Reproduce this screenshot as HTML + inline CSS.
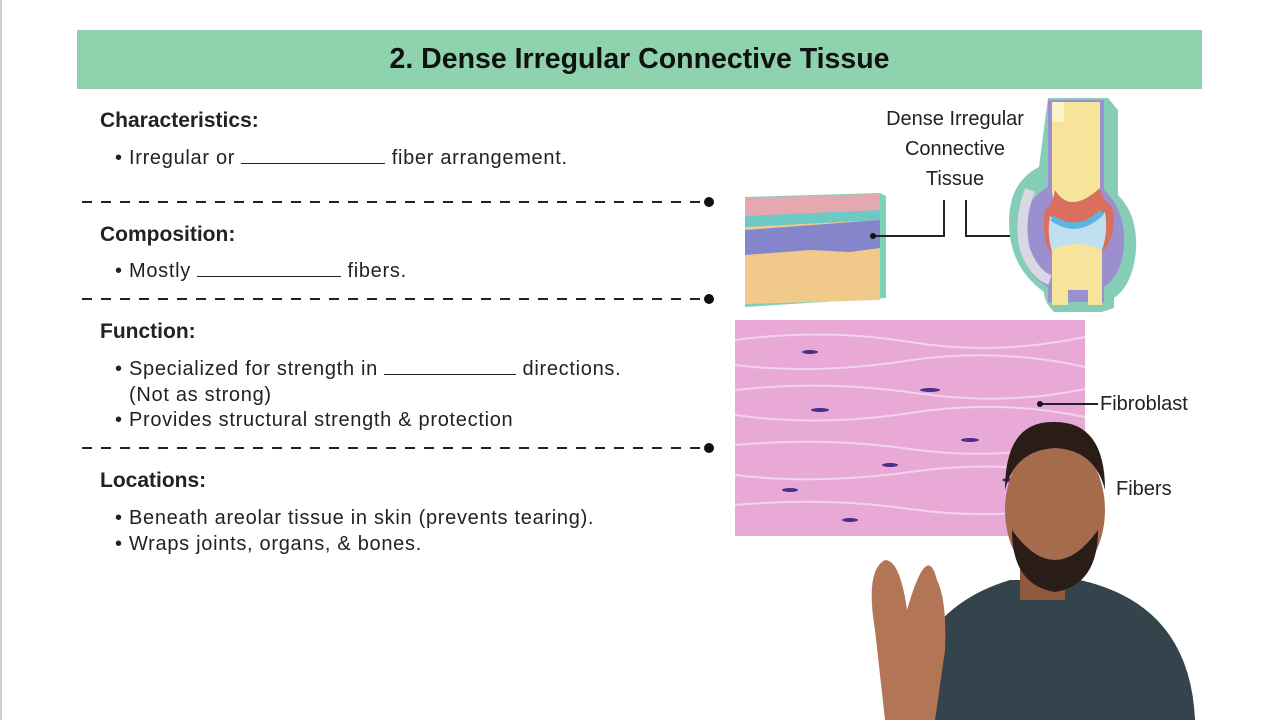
<!DOCTYPE html>
<html><head><style>
body{margin:0;width:1280px;height:720px;background:#fff;position:relative;overflow:hidden;font-family:"Liberation Sans",sans-serif;color:#222}
.a{position:absolute;white-space:nowrap}
.h{font-weight:bold;font-size:21px}
.t{font-size:20px;letter-spacing:0.7px}
.dash{position:absolute;left:82px;width:626px;height:2px;background:repeating-linear-gradient(90deg,#222 0 10px,transparent 10px 19px)}
.dot{position:absolute;width:10px;height:10px;border-radius:50%;background:#111}
.u{display:inline-block;width:144px;border-bottom:1.5px solid #222;height:16px}
</style></head><body>
<div style="position:absolute;left:0;top:0;width:2px;height:720px;background:#ccc"></div>
<div class="a" style="left:77px;top:30px;width:1125px;height:59px;background:#8ed3ae;text-align:center;line-height:59px;font-weight:bold;font-size:28.5px;color:#111">2. Dense Irregular Connective Tissue</div>
<div class="a h" style="left:100px;top:109px">Characteristics:</div>
<div class="a t" style="left:115px;top:147px">• Irregular or <span class="u"></span> fiber arrangement.</div>
<div class="dash" style="top:201px"></div><div class="dot" style="left:704px;top:197px"></div>
<div class="a h" style="left:100px;top:223px">Composition:</div>
<div class="a t" style="left:115px;top:260px">• Mostly <span class="u"></span> fibers.</div>
<div class="dash" style="top:298px"></div><div class="dot" style="left:704px;top:294px"></div>
<div class="a h" style="left:100px;top:320px">Function:</div>
<div class="a t" style="left:115px;top:358px">• Specialized for strength in <span class="u" style="width:132px"></span> directions.</div>
<div class="a t" style="left:129px;top:384px">(Not as strong)</div>
<div class="a t" style="left:115px;top:409px">• Provides structural strength &amp; protection</div>
<div class="dash" style="top:447px"></div><div class="dot" style="left:704px;top:443px"></div>
<div class="a h" style="left:100px;top:469px">Locations:</div>
<div class="a t" style="left:115px;top:507px">• Beneath areolar tissue in skin (prevents tearing).</div>
<div class="a t" style="left:115px;top:533px">• Wraps joints, organs, &amp; bones.</div>
<div class="a" style="left:870px;top:104px;width:170px;text-align:center;font-size:20px;line-height:30px">Dense Irregular<br>Connective<br>Tissue</div>
<svg class="a" style="left:730px;top:90px" width="480" height="450">
<polygon points="15,107 150,103 156,106 156,208 15,217" fill="#7fd0b8"/>
<polygon points="15,108 150,104 150,210 15,214" fill="#f0c98b"/>
<polygon points="15,140 150,130 150,158 120,162 80,160 15,165" fill="#8585cc"/>
<polygon points="15,108 150,104 150,122 15,128" fill="#e6a8b0"/>
<polygon points="15,126 150,120 150,130 15,137" fill="#6cc9c4"/>
<path d="M143,146 H214 V110 M236,110 V146 H308" stroke="#222" stroke-width="2" fill="none"/>
<circle cx="143" cy="146" r="3" fill="#111"/><circle cx="308" cy="146" r="3" fill="#111"/>
<path d="M318,8 h60 l10,12 v85 q20,20 18,55 q-3,35 -22,48 v10 l-12,4 h-48 q-10,-10 -10,-20 q-35,-25 -35,-70 q0,-40 30,-55 z" fill="#86cdb8"/>
<path d="M318,10 h56 v90 q22,20 20,55 q-2,30 -20,42 v15 h-56 v-15 q-25,-15 -27,-45 q0,-40 27,-55 z" fill="#9b8fcf"/>
<path d="M300,100 q-12,30 -5,60 q10,25 25,30" stroke="#d8d8e4" stroke-width="10" fill="none"/>
<path d="M322,12 h48 v90 q-4,22 -24,24 q-22,-2 -24,-24 z" fill="#f5e49a"/>
<path d="M322,12 h12 v20 h-12z" fill="#fbf2cc"/>
<path d="M315,120 q8,-5 10,-20 q15,25 45,-2 q2,12 12,18 q6,25 -8,45 q-30,-10 -55,0 q-8,-20 -4,-41z" fill="#d96f5c"/>
<path d="M320,126 q28,20 55,-4 q4,25 -6,45 q-25,-10 -45,0 q-8,-20 -4,-41z" fill="#c0e0ef"/>
<path d="M322,128 q26,18 50,-6" stroke="#59b6e0" stroke-width="6" fill="none"/>
<path d="M322,160 q25,-12 50,0 v55 h-14 v-15 h-20 v15 h-16 z" fill="#f5e49a"/>
<rect x="5" y="230" width="350" height="216" fill="#e9a9d6"/>
<g stroke="#f7dcef" stroke-width="2" fill="none" opacity=".8">
<path d="M5,250 q90,-12 175,2 t175,-5"/><path d="M5,275 q80,10 170,-4 t180,6"/><path d="M5,300 q90,-10 180,3 t170,-4"/><path d="M5,325 q85,12 175,-2 t175,4"/><path d="M5,355 q90,-8 175,4 t175,-6"/><path d="M5,385 q80,10 175,-3 t175,5"/><path d="M5,415 q90,-8 175,4 t175,-4"/></g>
<g fill="#4a2e8a"><ellipse cx="80" cy="262" rx="8" ry="2"/><ellipse cx="200" cy="300" rx="10" ry="2"/><ellipse cx="90" cy="320" rx="9" ry="2"/><ellipse cx="160" cy="375" rx="8" ry="2"/><ellipse cx="240" cy="350" rx="9" ry="2"/><ellipse cx="60" cy="400" rx="8" ry="2"/><ellipse cx="280" cy="390" rx="8" ry="2"/><ellipse cx="120" cy="430" rx="8" ry="2"/></g>
<path d="M310,314 H368" stroke="#222" stroke-width="2"/><circle cx="310" cy="314" r="3" fill="#111"/>
</svg>
<div class="a" style="left:1100px;top:393px;font-size:20px">Fibroblast</div>
<div class="a" style="left:1116px;top:478px;font-size:20px">Fibers</div>
<svg class="a" style="left:840px;top:420px" width="380" height="300">
<path d="M60,300 q10,-110 110,-140 h70 q110,25 115,140 z" fill="#34444d"/>
<rect x="180" y="140" width="45" height="40" fill="#8d5a40"/>
<ellipse cx="215" cy="90" rx="50" ry="72" fill="#a56b4d"/>
<path d="M165,70 q0,-70 50,-68 q50,0 50,68 q-10,-40 -50,-42 q-40,2 -50,42z" fill="#2a1d18"/>
<path d="M172,110 q43,60 86,0 q0,55 -43,62 q-43,-7 -43,-62z" fill="#2a1d18"/>
<path d="M45,300 l-10,-90 q-10,-60 10,-70 q15,0 22,50 q20,-70 30,-30 q10,20 8,70 l-10,70z" fill="#b27656"/>
</svg>
</body></html>
